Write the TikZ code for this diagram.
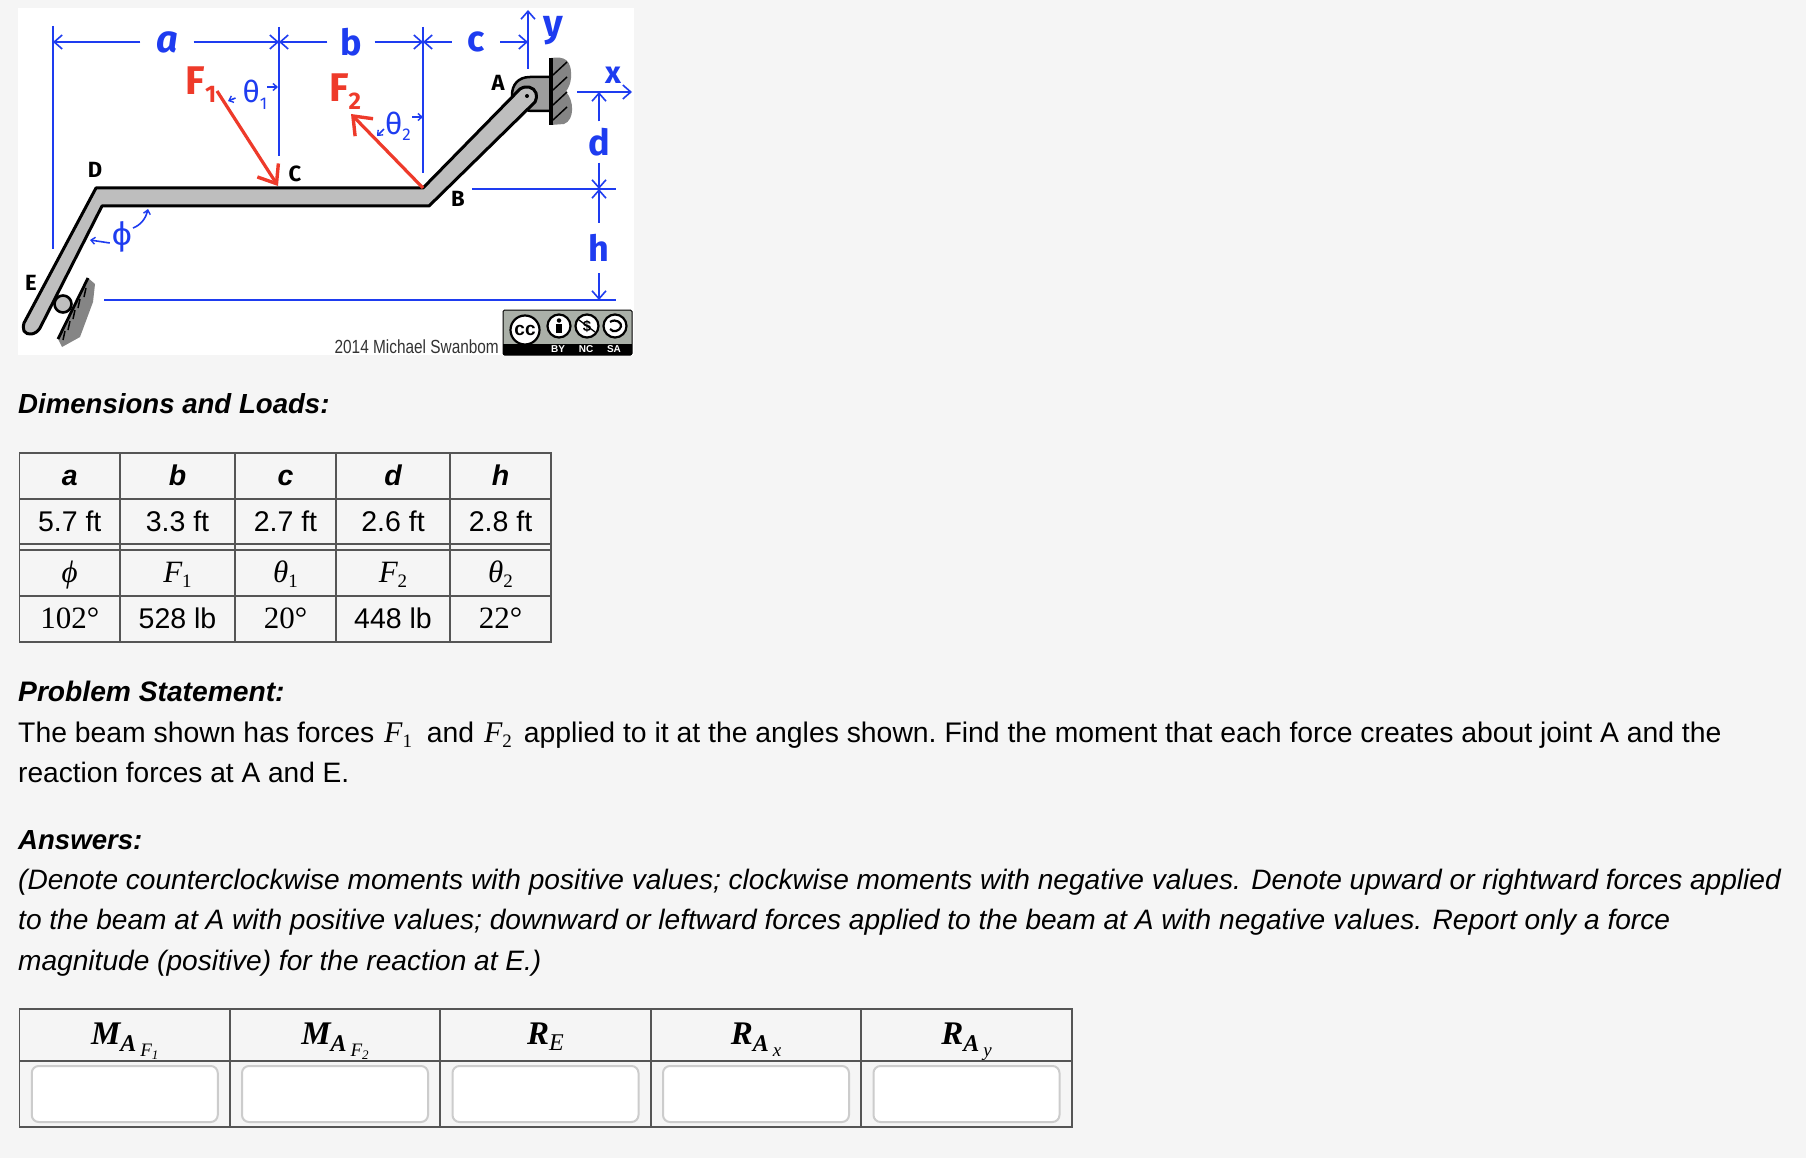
\documentclass[tikz,border=0pt]{standalone}
\usepackage{fontspec}
\setmainfont{Liberation Sans}
\newfontfamily\handfont{Fira Sans}
\newfontfamily\mathfont{Liberation Serif}
\usetikzlibrary{positioning,arrows.meta}
\newcommand{\msym}[1]{{\mathfont\itshape #1}}
\newcommand{\msub}[2]{{\mathfont\itshape #1}\raisebox{-5pt}{\mathfont\fontsize{19}{19}\selectfont #2}}
\newcommand{\mnum}[1]{{\mathfont #1}}
\newcommand{\bigM}[1]{{\mathfont\bfseries\itshape\fontsize{33}{33}\selectfont #1}}
\newcommand{\lowA}[2]{\raisebox{-7pt}{\mathfont\bfseries\itshape\fontsize{24}{24}\selectfont #1\,\raisebox{-5pt}{\mdseries\fontsize{19}{19}\selectfont #2}}}

\begin{document}
\begin{tikzpicture}[x=1pt,y=-1pt]
\definecolor{pagegray}{HTML}{F5F5F5}
\definecolor{dimblue}{HTML}{1E3CF0}
\definecolor{forcered}{HTML}{EE3A2A}
\definecolor{beamgray}{HTML}{BEBEBE}
\definecolor{wallgray}{HTML}{858585}
\definecolor{cellgray}{HTML}{555555}
\definecolor{badgegray}{HTML}{AAB0A8}
\tikzset{
dimline/.style={draw=dimblue, line width=1.6pt},
dimarrow/.style={dimline, -{Straight Barb[length=8pt,width=14pt,line width=1.6pt]}},
smallarrow/.style={draw=dimblue, line width=1.6pt, -{Straight Barb[length=4pt,width=7pt,line width=1.4pt]}},
forcearrow/.style={draw=forcered, line width=3.2pt, -{Straight Barb[length=16pt,width=25pt,line width=3.4pt]}},
dimlabel/.style={text=dimblue, font=\handfont\bfseries\itshape\fontsize{38}{38}\selectfont, inner sep=0pt},
greeklabel/.style={text=dimblue, font=\handfont\fontsize{30}{30}\selectfont, inner sep=0pt},
pointlabel/.style={text=black, font=\handfont\bfseries\fontsize{22}{22}\selectfont, inner sep=0pt},
forcelabel/.style={text=forcered, font=\handfont\bfseries\fontsize{40}{40}\selectfont, inner sep=0pt},
beamshape/.style={draw=black, fill=beamgray, line width=3pt, line join=round},
cellbox/.style={draw=cellgray, line width=1.5pt, outer sep=0pt, inner sep=0pt, text height=19pt, text depth=0pt, align=center, font=\fontsize{28.5}{28.5}\selectfont},
cellline/.style={draw=cellgray, line width=1.5pt},
headbox/.style={cellbox, font=\bfseries\itshape\fontsize{28.5}{28.5}\selectfont},
mathbox/.style={cellbox, font=\mathfont\fontsize{31}{31}\selectfont},
inputbox/.style={draw=black!20, fill=white, line width=2pt, rounded corners=7pt, minimum width=186pt, minimum height=56pt, inner sep=0pt},
bodytext/.style={anchor=base west, inner sep=0pt, font=\fontsize{28.1}{28.1}\selectfont},
headtext/.style={bodytext, font=\bfseries\itshape\fontsize{27.6}{27.6}\selectfont},
notetext/.style={bodytext, font=\itshape\fontsize{28.1}{28.1}\selectfont},
ccring/.style={circle, draw=black, fill=white, line width=2.2pt, inner sep=0pt},
cctag/.style={text=white, font=\bfseries\fontsize{10}{10}\selectfont, inner sep=0pt},
}

% page and picture panel
\useasboundingbox (0,0) rectangle (1806,1158);
\fill[pagegray] (0,0) rectangle (1806,1158);
\fill[white] (18,8) rectangle (634,355);

% wall at A and lug
\fill[wallgray] (551,58) .. controls (565,56) and (572,60) .. (571,78) .. controls (570,88) and (566,90) .. (566,92) .. controls (574,100) and (575,120) .. (564,124) -- (551,125) -- cycle;
\draw[black, line width=1.5pt] (553,75) -- (567,62);
\draw[black, line width=1.5pt] (553,90) -- (567,77);
\draw[black, line width=1.5pt] (553,105) -- (567,92);
\draw[black, line width=1.5pt] (553,120) -- (567,107);
\draw[black, fill=wallgray!80!white, line width=2.5pt] (551,77) -- (530,77) .. controls (518,77) and (512,85) .. (512,95) .. controls (514,104) and (524,111) .. (532,111) -- (551,111);
\draw[black, line width=4pt] (551,58) -- (551,125);

% wall at E and roller
\fill[wallgray] (88,278) -- (95,284) -- (93,302) -- (80,337) -- (62,347) -- (58,339) -- cycle;
\draw[black, line width=1.5pt] (86,288) -- (84,297);
\draw[black, line width=1.5pt] (80,299) -- (78,308);
\draw[black, line width=1.5pt] (75,310) -- (73,319);
\draw[black, line width=1.5pt] (70,321) -- (68,330);
\draw[black, line width=1.5pt] (65,331) -- (63,340);
\draw[black, line width=2.8pt] (58,339) -- (88,278);

% beam
\draw[beamshape] (24,323) -- (96,188) -- (423,188) -- (520,89) .. controls (526,85) and (534,87) .. (536,93) .. controls (537,97) and (536,100) .. (535,102) -- (429,206) -- (102,206) -- (40,328) .. controls (36,335) and (27,336) .. (24,331) .. controls (23,328) and (23,325) .. (24,323) -- cycle;
\node[circle, draw=black, fill=beamgray, line width=2.6pt, minimum size=17pt, inner sep=0pt] (roller) at (63,304) {};
\node[circle, fill=black, minimum size=4pt, inner sep=0pt] (pinA) at (527,96) {};

% dimension lines
\coordinate (aleft) at (53,42);
\coordinate (acut) at (279,42);
\coordinate (bcut) at (423,42);
\coordinate (ccut) at (528,42);
\coordinate (dcut) at (599,189);
\coordinate (dtop) at (599,92);
\coordinate (hbot) at (599,300);
\coordinate (bfoot) at (423,173);
\coordinate (atop) at (279,27);
\coordinate (afoot) at (279,156);
\coordinate (btop) at (423,27);
\coordinate (lfoot) at (53,249);
\coordinate (ltop) at (53,26);
\coordinate (ytail) at (528,69);
\coordinate (yhead) at (528,10);
\coordinate (xtail) at (577,92);
\coordinate (xhead) at (632,92);
\coordinate (blinestart) at (472,189);
\coordinate (blineend) at (616,189);
\coordinate (elinestart) at (104,300);
\coordinate (elineend) at (616,300);

\draw[dimline] (ltop) -- (lfoot);
\draw[dimline] (atop) -- (afoot);
\draw[dimline] (btop) -- (bfoot);
\draw[dimline] (blinestart) -- (blineend);
\draw[dimline] (elinestart) -- (elineend);
\draw[dimarrow] (ytail) -- (yhead);
\draw[dimarrow] (xtail) -- (xhead);

\node[dimlabel, minimum width=53pt] (alabel) at (167,42) {a};
\node[dimlabel, minimum width=47pt, font=\handfont\bfseries\fontsize{36}{36}\selectfont] (blabel) at (351,42) {b};
\node[dimlabel, minimum width=48pt, font=\handfont\bfseries\fontsize{36}{36}\selectfont] (clabel) at (476,42) {c};
\node[dimlabel, minimum height=41pt, font=\handfont\bfseries\fontsize{36}{36}\selectfont] (dlabel) at (599,142) {d};
\node[dimlabel, minimum height=50pt, font=\handfont\bfseries\fontsize{36}{36}\selectfont] (hlabel) at (599,248) {h};
\node[dimlabel, font=\handfont\bfseries\fontsize{38}{38}\selectfont] (ylabel) at (553,31) {y};
\node[dimlabel, font=\handfont\bfseries\fontsize{31}{31}\selectfont] (xlabel) at (613,75) {x};

\draw[dimarrow] (alabel) -- (aleft);
\draw[dimarrow] (alabel) -- (acut);
\draw[dimarrow] (blabel) -- (acut);
\draw[dimarrow] (blabel) -- (bcut);
\draw[dimarrow] (clabel) -- (bcut);
\draw[dimarrow] (clabel) -- (ccut);
\draw[dimarrow] (dlabel) -- (dtop);
\draw[dimarrow] (dlabel) -- (dcut);
\draw[dimarrow] (hlabel) -- (dcut);
\draw[dimarrow] (hlabel) -- (hbot);

% forces
\coordinate (f1tail) at (217,91);
\coordinate (f1head) at (278,186);
\coordinate (f2tail) at (423,188);
\coordinate (f2head) at (351,114);
\draw[forcearrow] (f1tail) -- (f1head);
\draw[forcearrow] (f2tail) -- (f2head);
\node[forcelabel] (f1label) at (201,85) {F\raisebox{-8pt}{\fontsize{24}{24}\selectfont 1}};
\node[forcelabel] (f2label) at (345,92) {F\raisebox{-8pt}{\fontsize{24}{24}\selectfont 2}};

% angle marks
\node[greeklabel] (t1label) at (255,95) {θ\raisebox{-7pt}{\fontsize{17}{17}\selectfont 1}};
\node[greeklabel] (t2label) at (398,126) {θ\raisebox{-6pt}{\fontsize{17}{17}\selectfont 2}};
\node[greeklabel, font=\handfont\fontsize{32}{32}\selectfont] (philabel) at (122,237) {ϕ};
\coordinate (t1left) at (228,101);
\coordinate (t1right) at (278,87);
\coordinate (t2left) at (377,136);
\coordinate (t2right) at (423,117);
\coordinate (phileft) at (90,240);
\coordinate (phiright) at (148,209);
\draw[smallarrow] (t1label.west) ++(-7,3) -- (t1left);
\draw[smallarrow] (t1label.east) ++(0,-8) -- (t1right);
\draw[smallarrow] (t2label.west) ++(-1,3) -- (t2left);
\draw[smallarrow] (t2label.east) ++(1,-9) -- (t2right);
\draw[smallarrow] (philabel.west) ++(-2,6) -- (phileft);
\draw[smallarrow] (133,228) .. controls (141,225) and (146,218) .. (phiright);

% point letters
\node[pointlabel] (Dpoint) at (95,170) {D};
\node[pointlabel] (Cpoint) at (295,174) {C};
\node[pointlabel] (Epoint) at (31,283) {E};
\node[pointlabel] (Apoint) at (498,83) {A};
\node[pointlabel] (Bpoint) at (458,199) {B};

% licence badge
\node[anchor=base east, inner sep=0pt, xscale=0.81, font=\fontsize{19}{19}\selectfont, text=black!80] (credit) at (499,353) {2014 Michael Swanbom};
\fill[badgegray, draw=black, line width=1pt, rounded corners=1.5pt] (503,310) rectangle (632,355);
\fill[black] (503,344) -- (632,344) -- (632,355) -- (503,355) -- cycle;
\node[ccring, minimum size=29pt, font=\bfseries\fontsize{19}{19}\selectfont] (ccmark) at (525,330) {cc};
\node[ccring, minimum size=23pt] (bymark) at (559,326) {};
\node[ccring, minimum size=23pt, font=\bfseries\fontsize{15}{15}\selectfont] (ncmark) at (587,326) {\$};
\node[ccring, minimum size=23pt] (samark) at (615,326) {};
\node[circle, fill=black, minimum size=4.5pt, inner sep=0pt] (byhead) at (559,320.5) {};
\fill[black] (556,323.5) rectangle (562,333);
\draw[black, line width=1.3pt] (579,320) -- (595,332);
\draw[black, line width=2.2pt] (610,322) .. controls (616,318) and (622,323) .. (621,326.5) .. controls (620,331) and (613,333) .. (610,329);
\node[cctag] (bytag) at (558,349.5) {BY};
\node[cctag] (nctag) at (586,349.5) {NC};
\node[cctag] (satag) at (614,349.5) {SA};

% text blocks
\node[headtext] (dimhead) at (18,413) {Dimensions and Loads:};

\node[headbox, minimum width=100.5pt, minimum height=46pt] (ahead) at (69.75,476) {a};
\node[headbox, minimum width=115pt, minimum height=46pt, right=0pt of ahead] (bhead) {b};
\node[headbox, minimum width=101pt, minimum height=46pt, right=0pt of bhead] (chead) {c};
\node[headbox, minimum width=114pt, minimum height=46pt, right=0pt of chead] (dhead) {d};
\node[headbox, minimum width=101pt, minimum height=46pt, right=0pt of dhead] (hhead) {h};
\node[cellbox, minimum width=100.5pt, minimum height=45pt, below=0pt of ahead] (aval) {5.7 ft};
\node[cellbox, minimum width=115pt, minimum height=45pt, below=0pt of bhead] (bval) {3.3 ft};
\node[cellbox, minimum width=101pt, minimum height=45pt, below=0pt of chead] (cval) {2.7 ft};
\node[cellbox, minimum width=114pt, minimum height=45pt, below=0pt of dhead] (dval) {2.6 ft};
\node[cellbox, minimum width=101pt, minimum height=45pt, below=0pt of hhead] (hval) {2.8 ft};
\node[mathbox, minimum width=100.5pt, minimum height=46pt, below=6pt of aval] (phihead) {\msym{ϕ}};
\node[mathbox, minimum width=115pt, minimum height=46pt, below=6pt of bval] (fonehead) {\msub{F}{1}};
\node[mathbox, minimum width=101pt, minimum height=46pt, below=6pt of cval] (tonehead) {\msub{θ}{1}};
\node[mathbox, minimum width=114pt, minimum height=46pt, below=6pt of dval] (ftwohead) {\msub{F}{2}};
\node[mathbox, minimum width=101pt, minimum height=46pt, below=6pt of hval] (ttwohead) {\msub{θ}{2}};
\node[mathbox, minimum width=100.5pt, minimum height=46pt, below=0pt of phihead] (phival) {102°};
\node[cellbox, minimum width=115pt, minimum height=46pt, below=0pt of fonehead] (foneval) {528 lb};
\node[mathbox, minimum width=101pt, minimum height=46pt, below=0pt of tonehead] (toneval) {20°};
\node[cellbox, minimum width=114pt, minimum height=46pt, below=0pt of ftwohead] (ftwoval) {448 lb};
\node[mathbox, minimum width=101pt, minimum height=46pt, below=0pt of ttwohead] (ttwoval) {22°};
\draw[cellline] (aval.south west) -- (phihead.north west);
\draw[cellline] (aval.south east) -- (phihead.north east);
\draw[cellline] (bval.south east) -- (fonehead.north east);
\draw[cellline] (cval.south east) -- (tonehead.north east);
\draw[cellline] (dval.south east) -- (ftwohead.north east);
\draw[cellline] (hval.south east) -- (ttwohead.north east);

\node[headtext, font=\bfseries\itshape\fontsize{28.2}{28.2}\selectfont] (probhead) at (18,701) {Problem Statement:};
\node[bodytext, font=\fontsize{28.35}{28.35}\selectfont] (probone) at (18,742) {\frenchspacing The beam shown has forces\hspace{2pt} {\fontsize{30}{30}\selectfont\msub{F}{1}}\hspace{7pt} and\hspace{2pt} {\fontsize{30}{30}\selectfont\msub{F}{2}}\hspace{4pt} applied to it at the angles shown. Find the moment that each force creates about joint A and the};
\node[bodytext] (probtwo) at (18,782) {reaction forces at A and E.};
\node[headtext] (anshead) at (18,849) {Answers:};
\node[notetext] (noteone) at (18,889) {(Denote counterclockwise moments with positive values; clockwise moments with negative values. Denote upward or rightward forces applied};
\node[notetext] (notetwo) at (18,929) {to the beam at A with positive values; downward or leftward forces applied to the beam at A with negative values. Report only a force};
\node[notetext] (notethree) at (18,970) {magnitude (positive) for the reaction at E.)};

\node[cellbox, minimum width=210.5pt, minimum height=52pt] (maone) at (124.75,1035) {\bigM{M}\lowA{A}{F\raisebox{-3pt}{\fontsize{13}{13}\selectfont 1}}};
\node[cellbox, minimum width=210pt, minimum height=52pt, right=0pt of maone] (matwo) {\bigM{M}\lowA{A}{F\raisebox{-3pt}{\fontsize{13}{13}\selectfont 2}}};
\node[cellbox, minimum width=211pt, minimum height=52pt, right=0pt of matwo] (re) {\bigM{R}\raisebox{-6pt}{\mathfont\itshape\fontsize{24}{24}\selectfont E}};
\node[cellbox, minimum width=210pt, minimum height=52pt, right=0pt of re] (rax) {\bigM{R}\lowA{A}{x}};
\node[cellbox, minimum width=211pt, minimum height=52pt, right=0pt of rax] (ray) {\bigM{R}\lowA{A}{y}};
\node[cellbox, minimum width=210.5pt, minimum height=66pt, text height=0pt, text depth=0pt, below=0pt of maone] (maoneans) {};
\node[cellbox, minimum width=210pt, minimum height=66pt, text height=0pt, text depth=0pt, below=0pt of matwo] (matwoans) {};
\node[cellbox, minimum width=211pt, minimum height=66pt, text height=0pt, text depth=0pt, below=0pt of re] (reans) {};
\node[cellbox, minimum width=210pt, minimum height=66pt, text height=0pt, text depth=0pt, below=0pt of rax] (raxans) {};
\node[cellbox, minimum width=211pt, minimum height=66pt, text height=0pt, text depth=0pt, below=0pt of ray] (rayans) {};
\node[inputbox] (maoneinput) at (maoneans) {};
\node[inputbox] (matwoinput) at (matwoans) {};
\node[inputbox] (reinput) at (reans) {};
\node[inputbox] (raxinput) at (raxans) {};
\node[inputbox] (rayinput) at (rayans) {};
\end{tikzpicture}
\end{document}
